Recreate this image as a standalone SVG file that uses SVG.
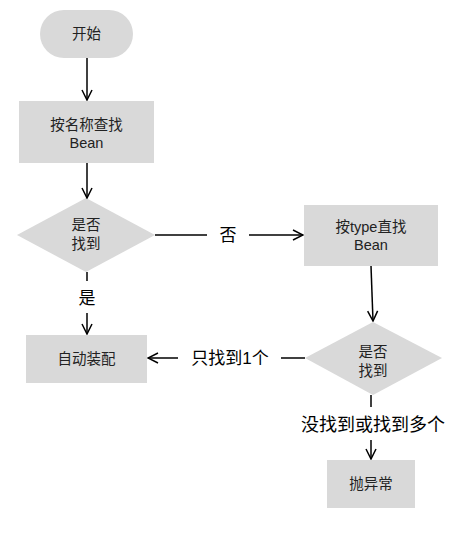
<svg xmlns="http://www.w3.org/2000/svg" width="474" height="540" viewBox="0 0 474 540">
<defs>
<marker id="arr" viewBox="0 0 12 12" refX="11" refY="6" markerWidth="12" markerHeight="12" markerUnits="userSpaceOnUse" orient="auto">
<path d="M1,1 L11,6 L1,11" fill="none" stroke="#000" stroke-width="1.5"/>
</marker>
<style>
.n{fill:#d9d9d9;stroke:none}
.t{font-family:"Liberation Sans","Noto Sans CJK SC",sans-serif;font-size:14.5px;fill:#222;text-anchor:middle}
.l{font-family:"Liberation Sans","Noto Sans CJK SC",sans-serif;font-size:17px;fill:#000;text-anchor:middle}
.c{stroke:#000;stroke-width:1.5;fill:none}
</style>
</defs>
<rect width="474" height="540" fill="#fff"/>
<g id="start">
<rect class="n" x="40" y="10" width="93" height="48" rx="24"/>
<text class="t" x="86.5" y="39">开始</text>
</g>
<g id="byName">
<rect class="n" x="19" y="101" width="135" height="62"/>
<text class="t" x="86.5" y="130">按名称查找</text>
<text class="t" x="86.5" y="148">Bean</text>
</g>
<g id="found1">
<polygon class="n" points="86,198 155,235 86,272 17,235"/>
<text class="t" x="86" y="230">是否</text>
<text class="t" x="86" y="249">找到</text>
</g>
<g id="byType">
<rect class="n" x="304" y="205" width="134" height="61"/>
<text class="t" x="371" y="232">按type直找</text>
<text class="t" x="371" y="250">Bean</text>
</g>
<g id="found2">
<polygon class="n" points="373,322 442,358 373,395 305,358"/>
<text class="t" x="373" y="357">是否</text>
<text class="t" x="373" y="376">找到</text>
</g>
<g id="autowire">
<rect class="n" x="26" y="335" width="121" height="48"/>
<text class="t" x="86.5" y="364">自动装配</text>
</g>
<g id="throw">
<rect class="n" x="327" y="460" width="88" height="48"/>
<text class="t" x="371" y="489">抛异常</text>
</g>
<g id="connectors">
<line class="c" x1="87" y1="58" x2="87" y2="100" marker-end="url(#arr)"/>
<line class="c" x1="87" y1="163" x2="87" y2="198" marker-end="url(#arr)"/>
<line class="c" x1="155" y1="235" x2="207" y2="235"/>
<text class="l" x="228" y="241">否</text>
<line class="c" x1="249" y1="235" x2="303" y2="235" marker-end="url(#arr)"/>
<line class="c" x1="87" y1="272" x2="87" y2="281"/>
<text class="l" x="87" y="304">是</text>
<line class="c" x1="87" y1="313" x2="87" y2="334" marker-end="url(#arr)"/>
<line class="c" x1="371" y1="266" x2="373" y2="321" marker-end="url(#arr)"/>
<line class="c" x1="305" y1="358" x2="281" y2="358"/>
<text class="l" x="230" y="364">只找到1个</text>
<line class="c" x1="178" y1="358" x2="148" y2="358" marker-end="url(#arr)"/>
<line class="c" x1="371" y1="395" x2="371" y2="407"/>
<text class="l" x="373" y="431" style="font-size:18px">没找到或找到多个</text>
<line class="c" x1="371" y1="440" x2="371" y2="459" marker-end="url(#arr)"/>
</g>
</svg>
